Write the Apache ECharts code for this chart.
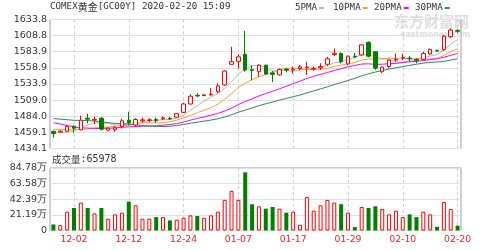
<!DOCTYPE html>
<html><head><meta charset="utf-8">
<script src="https://cdn.jsdelivr.net/npm/echarts@6/dist/echarts.min.js"></script>
<style>html,body{margin:0;padding:0;background:#fff}#c{width:480px;height:250px}</style>
</head><body><div id="c"></div>
<script>
const dates = ['11-26','11-27','11-29','12-02','12-03','12-04','12-05','12-06','12-09','12-10',
  '12-11','12-12','12-13','12-16','12-17','12-18','12-19','12-20','12-23','12-24',
  '12-26','12-27','12-30','12-31','01-02','01-03','01-06','01-07','01-08','01-09',
  '01-10','01-13','01-14','01-15','01-16','01-17','01-20','01-21','01-22','01-23',
  '01-24','01-27','01-28','01-29','01-30','01-31','02-03','02-04','02-05','02-06',
  '02-07','02-10','02-11','02-12','02-13','02-14','02-17','02-18','02-19','02-20'];
const labelDates = ['12-02','12-12','12-24','01-07','01-17','01-29','02-10','02-20'];
const opens = [1460.5,1459.5,1461,1468.5,1463,1481,1478,1481,1462.5,1463,
  1468,1478,1470.5,1477,1477.5,1479,1480,1481,1482.5,1490,
  1503,1516.5,1516,1517,1522,1532.5,1564.5,1569,1580,1556,
  1553,1563,1551,1548,1557,1555.5,1558,1559.5,1557,1559,
  1564.5,1579.5,1581,1565,1577,1579,1598.5,1584,1553,1561,
  1571,1574,1574,1572,1572,1580.5,1586,1587,1607,1617];
const closes = [1457.5,1461,1468,1465.5,1478,1479.5,1479,1464,1465.5,1466,
  1477,1474,1479,1478.5,1478.5,1477,1481.5,1480,1488,1503,
  1515,1515.5,1517,1518,1531,1554,1568.5,1576,1555.5,1555,
  1563,1549.5,1549,1556.5,1555.5,1557,1560.5,1560,1558,1561,
  1573,1581.5,1568.5,1577,1576,1594.5,1577,1558.5,1560,1571,
  1572,1575,1573,1570.5,1581,1587.5,1585,1608,1617.5,1615.5];
const lows = [1451,1459,1459.5,1458.5,1462,1473,1472,1462,1461,1460,
  1465,1470,1468,1474,1475,1474,1478,1478,1482,1489,
  1502,1513.8,1515.5,1516,1519.5,1531,1564,1558,1553,1540,
  1545,1548,1537,1547,1552,1550,1555.5,1548,1554.6,1555.6,
  1562,1577.5,1566,1563,1573.7,1577,1575,1556,1551,1558,
  1568.5,1571,1568.5,1566,1571,1579,1584,1585,1605,1613];
const highs = [1462,1462.5,1470.5,1470,1485,1488,1483.5,1483,1467,1469,
  1480,1491,1481,1482,1481,1482,1484,1483,1489,1505,
  1518,1519.5,1518.5,1528,1535,1555,1591.5,1580,1616,1563,
  1564.5,1564,1554,1558,1559,1561,1563.5,1568.5,1560.8,1566,
  1576,1589,1583,1578,1582,1596,1600,1585,1561,1572,
  1581,1581,1577,1574,1584,1589,1587,1610,1620,1618.5];
const volumes = [82000,73000,255000,305000,378000,305000,232000,305000,160000,219000,
  242000,392000,342000,160000,160000,182000,182000,137000,146000,173000,
  205000,196000,173000,205000,255000,415000,538000,415000,789000,356000,
  328000,296000,319000,296000,242000,255000,77000,456000,269000,342000,
  415000,378000,356000,242000,46000,319000,305000,328000,292000,219000,
  269000,182000,219000,182000,255000,219000,50000,387000,292000,65978];
const priorCloses = [1490,1494,1490,1488,1488,1495,1504,1505,1495,1488,
  1496,1514,1511,1509,1483,1492,1466,1457,1455,1456,
  1463,1471,1468,1472,1471,1462,1460,1458,1455];
const priceTicks = ['1434.1','1459.1','1484.0','1509.0','1533.9','1558.9','1583.9','1608.8','1633.8'];
const volumeTicks = ['0','21.19万','42.39万','63.58万','84.78万'];
const maPeriods = [5,10,20,30];
const maNames = ['5PMA','10PMA','20PMA','30PMA'];
const maColors = ['#b8b8b8','#f5a623','#ff00ff','#2e8b57'];

const allCloses = priorCloses.concat(closes);
function ma(n){
  const off = priorCloses.length;
  return closes.map((c,i)=>{
    let s=0; for(let k=0;k<n;k++) s+=allCloses[off+i-k];
    return +(s/n).toFixed(2);
  });
}
const RED='#ff0000', GREEN='#008000';
const pMin=1434.1, pMax=1633.8, pInt=(pMax-pMin)/8;
const vMax=847800, vInt=vMax/4;
const showLabel = (idx)=>labelDates.indexOf(dates[idx])>=0;
const labFont = 'DejaVu Sans';

const chart = echarts.init(document.getElementById('c'));
const series = maPeriods.map((n,k)=>({
  name: maNames[k], type:'line', xAxisIndex:0, yAxisIndex:0, data: ma(n),
  showSymbol:false, symbol:'none', lineStyle:{width:1,color:maColors[k]}, itemStyle:{color:maColors[k]},
  silent:true, z:2
}));
series.push({
  type:'candlestick', xAxisIndex:0, yAxisIndex:0, barWidth:4,
  data: opens.map((o,i)=>[o,closes[i],lows[i],highs[i]]),
  itemStyle:{color:'#fff',color0:GREEN,borderColor:RED,borderColor0:GREEN,borderWidth:1},
  z:3
});
series.push({
  type:'bar', xAxisIndex:1, yAxisIndex:1, barWidth:4,
  data: volumes.map((v,i)=>{
    const up = closes[i] >= opens[i];
    return {value:v, itemStyle: up ? {color:'#fff',borderColor:RED,borderWidth:1} : {color:GREEN,borderColor:GREEN,borderWidth:0}};
  })
});
// legend drawn as text + short colour bar
const legendX = [295,333,374,415];
const legendGraphics = [];
maNames.forEach((nm,k)=>{
  const w = nm.length*5.54;
  legendGraphics.push({type:'text',left:legendX[k],top:3,silent:true,
    style:{text:nm,fontFamily:'DejaVu Sans Mono',fontSize:9.2,fill:'#333'}});
  legendGraphics.push({type:'rect',left:legendX[k]+w+2,top:7,silent:true,
    shape:{width:5,height:2},style:{fill:maColors[k]}});
});
const splitX = {show:true, interval:(i)=>showLabel(i), alignWithLabel:true, lineStyle:{color:'#cfcfcf',type:[3,3],width:1}};
chart.setOption({
  animation:false,
  backgroundColor:'#fff',
  grid:[
    {left:50,top:19.5,width:411,height:129,show:true,borderColor:'#a0a0a0',borderWidth:1,containLabel:false},
    {left:50,top:168,width:411,height:62.5,show:true,borderColor:'#a0a0a0',borderWidth:1,containLabel:false}
  ],
  xAxis:[
    {type:'category',gridIndex:0,data:dates,boundaryGap:true,axisLine:{show:false},axisTick:{show:false,alignWithLabel:true},
     axisLabel:{show:false},splitLine:splitX},
    {type:'category',gridIndex:1,data:dates,boundaryGap:true,axisLine:{show:false},axisTick:{show:false,alignWithLabel:true},
     axisLabel:{show:true,interval:(i)=>showLabel(i),color:'#ff2020',fontFamily:labFont,fontSize:9.3,margin:5},splitLine:splitX}
  ],
  yAxis:[
    {type:'value',gridIndex:0,min:pMin,max:pMax,interval:pInt,scale:true,axisLine:{show:false},axisTick:{show:false},
     axisLabel:{color:'#333',fontFamily:labFont,fontSize:9.5,margin:3,formatter:(v)=>priceTicks[Math.round((v-pMin)/pInt)]},
     splitLine:{lineStyle:{color:'#e2e2e2',width:1}}},
    {type:'value',gridIndex:1,min:0,max:vMax,interval:vInt,axisLine:{show:false},axisTick:{show:false},
     axisLabel:{color:'#333',fontFamily:labFont,fontSize:9.5,margin:3,formatter:(v)=>volumeTicks[Math.round(v/vInt)]},
     splitLine:{lineStyle:{color:'#e2e2e2',width:1}}}
  ],
  graphic:[
    {type:'text',left:50,top:2,silent:true,style:{text:'{a|COMEX}{b|黄金}{a|[GC00Y] 2020-02-20 15:09}',
      rich:{a:{fontFamily:'DejaVu Sans Mono',fontSize:9.2,fill:'#333'},b:{fontFamily:'Noto Sans CJK SC',fontSize:10,fill:'#333'}}}},
    {type:'text',left:52,top:154,silent:true,style:{text:'{b|成交量}{a|:65978}',
      rich:{a:{fontFamily:'DejaVu Sans Mono',fontSize:10,fill:'#333'},b:{fontFamily:'Noto Sans CJK SC',fontSize:9.5,fill:'#333'}}}},
    {type:'text',left:394,top:14,silent:true,z:0,style:{text:'东方财富网',fontFamily:'Noto Sans CJK SC',fontSize:15,fontWeight:'bold',fill:'rgba(150,150,150,0.3)'}},
    {type:'text',left:400,top:31,silent:true,z:0,style:{text:'eastmoney.com',fontFamily:'DejaVu Sans',fontSize:8,fontWeight:'bold',fill:'rgba(150,150,150,0.3)'}}
  ].concat(legendGraphics),
  series:series
});
</script></body></html>
